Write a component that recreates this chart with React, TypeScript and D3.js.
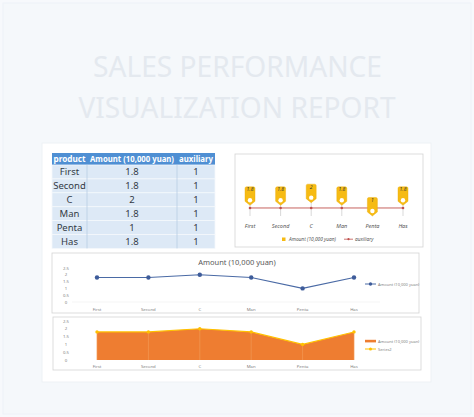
import React from "react";
import * as d3 from "d3";

const categories = ["First", "Second", "C", "Man", "Penta", "Has"];
const amounts = [1.8, 1.8, 2, 1.8, 1, 1.8];
const auxiliary = [1, 1, 1, 1, 1, 1];
const yTicks = [0, 0.5, 1, 1.5, 2, 2.5];
const tableHeaders = ["product", "Amount (10,000 yuan)", "auxiliary"];

const W = 474;
const H = 417;
const FONT = "'Noto Sans', 'Open Sans', sans-serif";

export default function App() {
  // table layout
  const colEdges = [52, 87, 177, 215];
  const headerTop = 153;
  const headerH = 12;
  const rowH = 13.9;

  // line & area chart x scale
  const xPt = d3.scalePoint<string>().domain(categories).range([97, 354]);

  // line chart
  const yLine = d3.scaleLinear().domain([0, 2.5]).range([302, 268]);
  const lineGen = d3
    .line<number>()
    .x((_, i) => xPt(categories[i])!)
    .y((d) => yLine(d));

  // area chart
  const yArea = d3.scaleLinear().domain([0, 2.5]).range([360, 321]);
  const areaGen = d3
    .area<number>()
    .x((_, i) => xPt(categories[i])!)
    .y0(yArea(0))
    .y1((d) => yArea(d));
  const areaLine = d3
    .line<number>()
    .x((_, i) => xPt(categories[i])!)
    .y((d) => yArea(d));

  // tag chart
  const xTag = d3.scalePoint<string>().domain(categories).range([250, 403]);
  const yTag = d3.scaleLinear().domain([0, 2.5]).range([224.3, 191]);
  const auxOffset = -3;
  const auxLine = d3
    .line<number>()
    .x((_, i) => xTag(categories[i])!)
    .y((d) => yTag(d) + auxOffset);

  const tagPath = (x: number, y: number) => {
    const w = 5;
    return `M${x - w},${y - 12} Q${x - w},${y - 13.5} ${x - w + 1.5},${y - 13.5} L${x + w - 1.5},${y - 13.5} Q${x + w},${y - 13.5} ${x + w},${y - 12} L${x + w},${y + 1} L${x},${y + 5} L${x - w},${y + 1} Z`;
  };

  const headerWidths = [32, 84, 34];

  return (
    <svg
      width={W}
      height={H}
      style={{ position: "absolute", left: 0, top: 0 }}
      fontFamily={FONT}
    >
      <rect x={0} y={0} width={W} height={H} fill="#f7f9fc" />
      <rect x={3} y={3} width={W - 6} height={H - 6} fill="#f5f8fb" stroke="#eef2f7" />
      {/* Title */}
      <text x={237.5} y={77} textAnchor="middle" fontSize={29} fill="#e4e9ef" textLength={289} lengthAdjust="spacingAndGlyphs">
        SALES PERFORMANCE
      </text>
      <text x={237} y={118} textAnchor="middle" fontSize={29} fill="#e4e9ef" textLength={317} lengthAdjust="spacingAndGlyphs">
        VISUALIZATION REPORT
      </text>

      {/* card */}
      <rect x={42} y={143} width={389} height={239} fill="#ffffff" stroke="#eef1f5" />

      {/* table */}
      <rect
        x={colEdges[0]}
        y={headerTop}
        width={colEdges[3] - colEdges[0]}
        height={headerH}
        fill="#4f8fd3"
      />
      {tableHeaders.map((h, i) => (
        <text
          key={h}
          x={(colEdges[i] + colEdges[i + 1]) / 2}
          y={headerTop + headerH / 2 + 3.2}
          textAnchor="middle"
          fontSize={8.2}
          fontWeight={700}
          fill="#ffffff"
          textLength={headerWidths[i]}
          lengthAdjust="spacingAndGlyphs"
        >
          {h}
        </text>
      ))}
      {categories.map((c, r) => {
        const y0 = headerTop + headerH + r * rowH;
        const cells = [c, String(amounts[r]), String(auxiliary[r])];
        return (
          <g key={c}>
            <rect
              x={colEdges[0]}
              y={y0}
              width={colEdges[3] - colEdges[0]}
              height={rowH}
              fill="#dde9f6"
              stroke="#f4f8fc"
              strokeWidth={0.8}
            />
            {cells.map((t, i) => (
              <text
                key={i}
                x={(colEdges[i] + colEdges[i + 1]) / 2}
                y={y0 + rowH / 2 + 3.4}
                textAnchor="middle"
                fontSize={9.5}
                fill="#333a45"
              >
                {t}
              </text>
            ))}
          </g>
        );
      })}
      {[colEdges[1], colEdges[2]].map((x) => (
        <line
          key={x}
          x1={x}
          x2={x}
          y1={headerTop + headerH}
          y2={headerTop + headerH + rowH * categories.length}
          stroke="#b9cde4"
          strokeWidth={0.8}
        />
      ))}

      {/* tag chart */}
      <rect x={235} y={154} width={188} height={93} fill="#ffffff" stroke="#d4d4d4" strokeWidth={0.8} />
      {categories.map((c, i) => (
        <line
          key={"stem" + c}
          x1={xTag(c)!}
          x2={xTag(c)!}
          y1={yTag(amounts[i])}
          y2={216}
          stroke="#c8c8c8"
          strokeWidth={0.7}
        />
      ))}
      <path d={auxLine(auxiliary) || ""} fill="none" stroke="#c0504d" strokeWidth={0.9} />
      {categories.map((c, i) => (
        <circle
          key={"ad" + c}
          cx={xTag(c)!}
          cy={yTag(auxiliary[i]) + auxOffset}
          r={1.3}
          fill="#c0504d"
        />
      ))}
      {categories.map((c, i) => {
        const x = xTag(c)!;
        const y = yTag(amounts[i]);
        return (
          <g key={"tag" + c}>
            <path d={tagPath(x, y)} fill="#f6bb14" stroke="#eaa800" strokeWidth={0.4} />
            <circle cx={x} cy={y} r={2.2} fill="#ffffff" />
            <text x={x} y={y - 9} textAnchor="middle" fontSize={5} fontStyle="italic" fill="#333">
              {amounts[i]}
            </text>
          </g>
        );
      })}
      {categories.map((c) => (
        <text key={"tl" + c} x={xTag(c)!} y={228} textAnchor="middle" fontSize={5.5} fontStyle="italic" fill="#555">
          {c}
        </text>
      ))}
      {/* tag legend */}
      <rect x={282} y={237.5} width={3.5} height={3.5} fill="#f6bb14" />
      <text x={289} y={241} fontSize={4.8} fontStyle="italic" fill="#555">
        Amount (10,000 yuan)
      </text>
      <line x1={344} x2={353} y1={239.2} y2={239.2} stroke="#c0504d" strokeWidth={0.8} />
      <circle cx={348.5} cy={239.2} r={1.1} fill="#c0504d" />
      <text x={355} y={241} fontSize={4.8} fontStyle="italic" fill="#555">
        auxiliary
      </text>

      {/* line chart */}
      <rect x={52} y={253} width={367} height={60} fill="#ffffff" stroke="#d4d4d4" strokeWidth={0.8} />
      <text x={237} y={265} textAnchor="middle" fontSize={7.5} fill="#595959">
        Amount (10,000 yuan)
      </text>
      {yTicks.map((t) => (
        <text key={"ly" + t} x={66} y={yLine(t) + 1.5} textAnchor="middle" fontSize={4.3} fill="#7f7f7f">
          {t}
        </text>
      ))}
      <line x1={72} x2={380} y1={yLine(0)} y2={yLine(0)} stroke="#efefef" strokeWidth={0.6} />
      {categories.map((c) => (
        <text key={"lx" + c} x={xPt(c)!} y={310.5} textAnchor="middle" fontSize={4.3} fill="#7f7f7f">
          {c}
        </text>
      ))}
      <path d={lineGen(amounts) || ""} fill="none" stroke="#4a6aa5" strokeWidth={1.1} />
      {categories.map((c, i) => (
        <circle key={"lp" + c} cx={xPt(c)!} cy={yLine(amounts[i])} r={2.2} fill="#3e5c9a" />
      ))}
      <line x1={365} x2={376} y1={284} y2={284} stroke="#4a6aa5" strokeWidth={1} />
      <circle cx={370.5} cy={284} r={1.7} fill="#3e5c9a" />
      <text x={378} y={285.5} fontSize={4} fill="#7f7f7f">
        Amount (10,000 yuan)
      </text>

      {/* area chart */}
      <rect x={53} y={317} width={368} height={53} fill="#ffffff" stroke="#d4d4d4" strokeWidth={0.8} />
      {yTicks.map((t) => (
        <text key={"ay" + t} x={66} y={yArea(t) + 1.5} textAnchor="middle" fontSize={4.3} fill="#7f7f7f">
          {t}
        </text>
      ))}
      <path d={areaGen(amounts) || ""} fill="#ee7d31" />
      {categories.map((c, i) => (
        <line
          key={"ad" + c}
          x1={xPt(c)!}
          x2={xPt(c)!}
          y1={yArea(amounts[i])}
          y2={yArea(0)}
          stroke="#f29a55"
          strokeWidth={0.7}
        />
      ))}
      <path d={areaLine(amounts) || ""} fill="none" stroke="#ffc000" strokeWidth={1.1} />
      {categories.map((c, i) => (
        <circle key={"apt" + c} cx={xPt(c)!} cy={yArea(amounts[i])} r={1.7} fill="#ffc000" />
      ))}
      {categories.map((c) => (
        <text key={"ax" + c} x={xPt(c)!} y={367.5} textAnchor="middle" fontSize={4.3} fill="#7f7f7f">
          {c}
        </text>
      ))}
      <rect x={365} y={339.8} width={11} height={2.6} fill="#ee7d31" />
      <text x={378} y={342.5} fontSize={4} fill="#7f7f7f">
        Amount (10,000 yuan)
      </text>
      <line x1={365} x2={376} y1={349} y2={349} stroke="#ffc000" strokeWidth={1} />
      <circle cx={370.5} cy={349} r={1.5} fill="#ffc000" />
      <text x={378} y={350.5} fontSize={4} fill="#7f7f7f">
        Series2
      </text>
    </svg>
  );
}
